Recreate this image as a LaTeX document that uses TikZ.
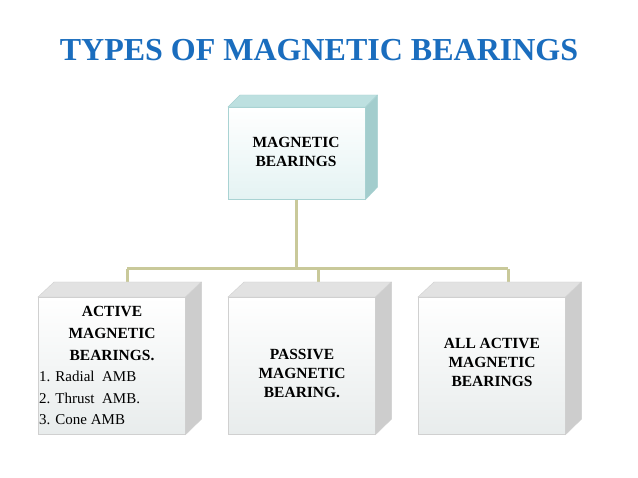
\documentclass[tikz,border=0pt]{standalone}
\usepackage{fontspec}
\setmainfont{Liberation Serif}
\begin{document}
\begin{tikzpicture}[x=1pt,y=-1pt,
  conn/.style={draw=conncol,line width=3pt},
  tbox/.style={draw=tealb,line width=0.6pt,top color=white,bottom color=tealf,inner sep=0pt},
  gbox/.style={draw=grayb,line width=0.6pt,top color=white,bottom color=grayf,inner sep=0pt},
  btxt/.style={font=\bfseries\fontsize{15.5}{19}\selectfont,align=center,inner sep=0pt}]
\definecolor{conncol}{HTML}{C9C99A}
\definecolor{tealb}{HTML}{A9D3D3}
\definecolor{tealf}{HTML}{E4F3F3}
\definecolor{tealtop}{HTML}{BDE0E0}
\definecolor{tealside}{HTML}{A3CDCD}
\definecolor{grayb}{HTML}{D0D0D0}
\definecolor{grayf}{HTML}{E8ECEC}
\definecolor{graytop}{HTML}{E2E2E2}
\definecolor{grayside}{HTML}{CDCDCD}
\definecolor{titleblue}{HTML}{1A6DBE}
\useasboundingbox[fill=white] (0,0) rectangle (638,478);
\node[font=\bfseries\fontsize{32}{36}\selectfont,text=titleblue] (title) at (319,50) {TYPES OF MAGNETIC BEARINGS};
\coordinate (j) at (296,269);
\coordinate (jl) at (127,269);
\coordinate (jm) at (318,269);
\coordinate (jr) at (508,269);
% top box
\node[tbox,minimum width=137,minimum height=92,anchor=north west] (top) at (228,107) {};
\fill[tealtop,draw=tealb] (top.north west) -- ++(12,-12) -- ++(137,0) -- (top.north east) -- cycle;
\fill[tealside,draw=tealb] (top.north east) -- ++(12,-12) -- ++(0,92) -- (top.south east) -- cycle;
\node[btxt] (tt) at (296,152) {MAGNETIC\\BEARINGS};
\draw[conn] (top.south -| j) -- (j);
\draw[conn] (jl) -- (jr);
\draw[conn] (jl) -- ++(0,14);
\draw[conn] (jm) -- ++(0,14);
\draw[conn] (jr) -- ++(0,14);
% bottom boxes
\foreach \n/\x in {a/38,p/228,l/418}{
  \node[gbox,minimum width=147,minimum height=137,anchor=north west] (\n) at (\x,297) {};
  \fill[graytop,draw=grayb] (\n.north west) -- ++(16,-15) -- ++(147,0) -- (\n.north east) -- cycle;
  \fill[grayside,draw=grayb] (\n.north east) -- ++(16,-15) -- ++(0,137) -- (\n.south east) -- cycle;
}
\node[font=\bfseries\fontsize{15.5}{22}\selectfont,align=center,inner sep=0pt] (at) at (112,333) {ACTIVE\\MAGNETIC\\BEARINGS.};
\node[font=\fontsize{15}{21.5}\selectfont,align=left,anchor=west,inner sep=0pt] (al) at (39,398) {1. Radial\ \ AMB\\2. Thrust\ \ AMB.\\3. Cone AMB};
\node[btxt] (pt) at (302,373) {PASSIVE\\MAGNETIC\\BEARING.};
\node[btxt] (lt) at (492,362) {ALL ACTIVE\\MAGNETIC\\BEARINGS};
\end{tikzpicture}
\end{document}
